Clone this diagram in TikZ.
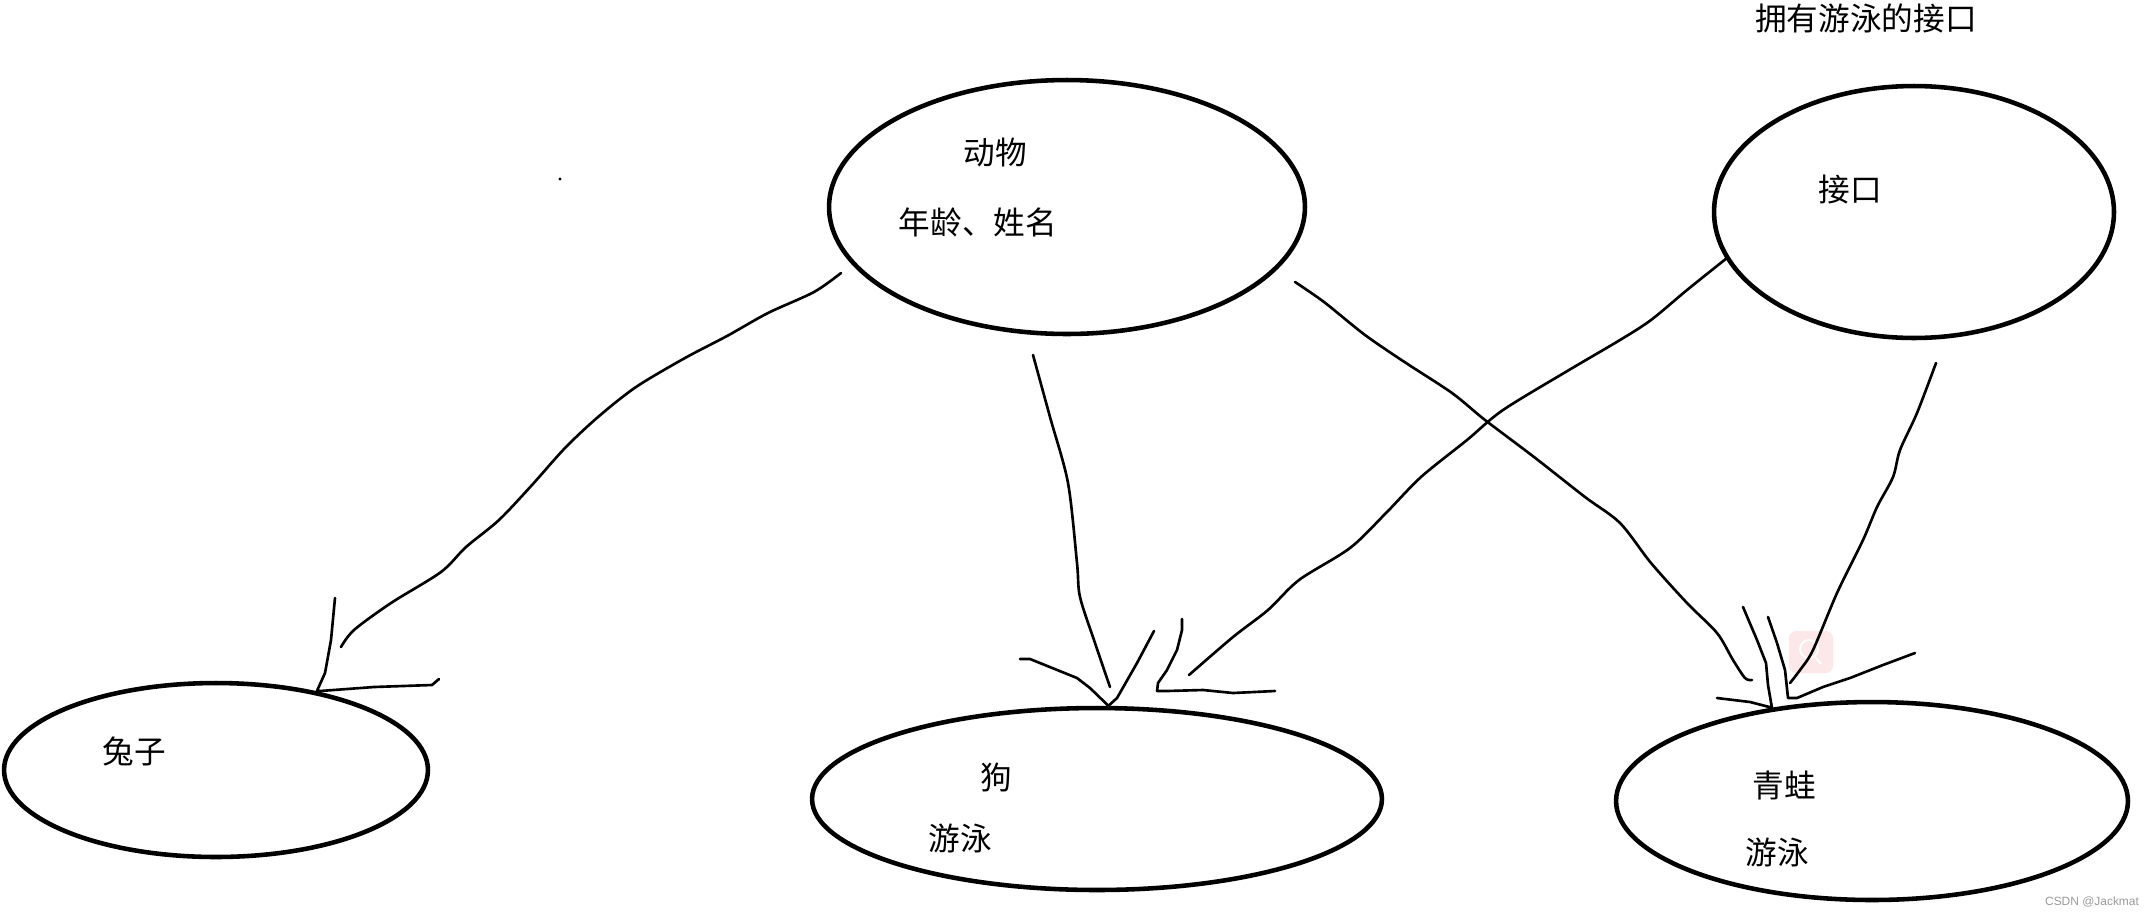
\documentclass[tikz,border=0pt]{standalone}
\usepackage{fontspec}
\setmainfont{Noto Sans CJK SC}
\newfontfamily\markfont{Liberation Sans}
\usetikzlibrary{shapes.geometric,calc}
\definecolor{MarkGray}{HTML}{9A9A9A}
\definecolor{IconPink}{HTML}{FCE8E8}

\begin{document}
\begin{tikzpicture}[x=0.02cm,y=-0.02cm,
    blob/.style={draw,ellipse,line width=2.6pt,inner sep=0pt},
    word/.style={inner sep=0pt,font=\fontsize{18}{21}\selectfont},
    pen/.style={line width=1.5pt,line cap=round,line join=round}]
  \fill[white] (0,0) rectangle (2156,917);
  \useasboundingbox (0,0) rectangle (2156,917);

  % small marks
  \fill (560,179) circle (1.6);
  \fill[IconPink,rounded corners=4] (1789,631) rectangle (1833,673);
  \draw[white,line width=1pt] (1809,649) circle (9) (1815,657) -- (1821,664);

  % ellipses
  \node[blob,minimum width=9.52cm,minimum height=5.08cm] (animal) at (1067,207) {};
  \node[blob,minimum width=8cm,minimum height=5.04cm] (iface) at (1914,212) {};
  \node[blob,minimum width=8.48cm,minimum height=3.48cm] (rabbit) at (216,770) {};
  \node[blob,minimum width=11.4cm,minimum height=3.64cm] (dog) at (1097,799) {};
  \node[blob,minimum width=10.24cm,minimum height=3.96cm] (frog) at (1872,801) {};

  % texts
  \node[word] (animalname) at (995,152) {动物};
  \node[word] (animalattr) at (978,222) {年龄、姓名};
  \node[word] (ifacename) at (1850,190) {接口};
  \node[word] (ifacenote) at (1866,18) {拥有游泳的接口};
  \node[word] (rabbitname) at (134,751) {兔子};
  \node[word] (dogname) at (996,777) {狗};
  \node[word] (dogskill) at (960,838) {游泳};
  \node[word] (frogname) at (1784,785) {青蛙};
  \node[word] (frogskill) at (1777,852) {游泳};
  \node[font=\markfont\fontsize{6.8}{8}\selectfont,text=MarkGray,inner sep=0pt] (mark) at (2092,902) {CSDN @Jackmat};

  % animal -> rabbit
  \draw[pen] plot[smooth,tension=0.5] coordinates {(841,273) (814,292) (768,313) (727,336) (685,358) (636,387) (598,417) (565,448) (532,485) (499,520) (466,547) (441,572) (391,603) (354,630) (341,647)};
  \draw[pen] (335,598) -- (331,640) -- (325,673) -- (rabbit.38) -- (374,687) -- (432,685) -- (439,679);

  % animal -> dog
  \draw[pen] plot[smooth,tension=0.5] coordinates {(1033,355) (1050,417) (1068,483) (1077,563) (1080,597) (1095,643) (1110,687)};
  \draw[pen] (1020,659) -- (1030,659) -- (1077,678) -- (1090,688) -- (dog.83) -- (1117,698) -- (1137,663) -- (1154,631);

  % iface -> dog
  \draw[pen] plot[smooth,tension=0.5] coordinates {(iface.194) (1687,290) (1651,320) (1620,340) (1569,370) (1503,410) (1467,440) (1421,477) (1386,513) (1350,548) (1299,580) (1268,610) (1233,637) (1189,675)};
  \draw[pen] (1182,619) -- (1182,630) -- (1177,650) -- (1167,670) -- (1158,683) -- (1157,691) -- (1167,691) -- (1203,690) -- (1233,693) -- (1275,691);

  % animal -> frog
  \draw[pen] plot[smooth,tension=0.5] coordinates {(1295,282) (1324,302) (1365,335) (1406,363) (1452,393) (1485,420) (1534,457) (1585,497) (1620,523) (1651,563) (1687,603) (1717,633) (1733,660) (1745,678) (1752,680)};
  \draw[pen] (1743,607) -- (1757,640) -- (1766,663) -- (1768,685) -- (frog.137) -- (1750,702) -- (1717,698);

  % iface -> frog
  \draw[pen] plot[smooth,tension=0.5] coordinates {(1936,363) (1917,413) (1900,450) (1893,477) (1877,507) (1863,540) (1837,593) (1813,650) (1800,670) (1790,683)};
  \draw[pen] (1768,617) -- (1777,643) -- (1785,670) -- (1788,698) -- (1797,698) -- (1823,687) -- (1850,678) -- (1883,665) -- (1915,653);
\end{tikzpicture}
\end{document}
